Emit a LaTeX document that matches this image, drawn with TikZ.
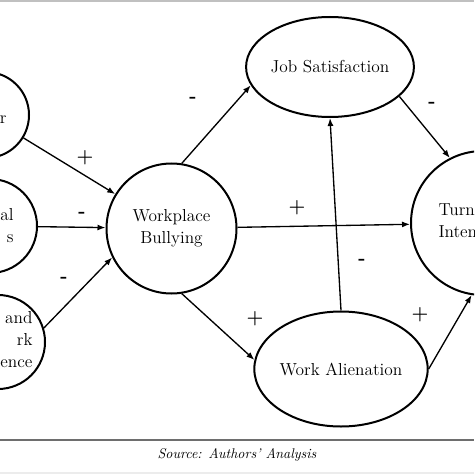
\documentclass[tikz,border=0pt]{standalone}
\usetikzlibrary{shapes.geometric,arrows.meta}
\tikzset{every picture/.style={line width=0.75pt}}
\begin{document}
\begin{tikzpicture}[x=0.75pt,y=0.75pt,yscale=-1,xscale=1,
  construct/.style={draw,circle,line width=1.5pt,inner sep=0pt,font=\fontsize{13}{16.5}\selectfont,align=center},
  oval/.style={draw,ellipse,line width=1.5pt,inner sep=0pt,font=\fontsize{13}{16.5}\selectfont},
  cut/.style={inner sep=0.75pt,font=\fontsize{13}{16.5}\selectfont},
  link/.style={line width=1pt,-{Latex[length=6pt,width=4.5pt]}},
  signlbl/.style={inner sep=0.75pt,font=\Large\bfseries}]
\useasboundingbox (0,0) rectangle (474,474);
\clip (0,0) rectangle (474,474);
%Frame bands
\fill [color={rgb, 255:red, 192; green, 192; blue, 192 }] (0,0) rectangle (474,2) ;
\fill [color={rgb, 255:red, 236; green, 236; blue, 236 }] (0,471.5) rectangle (474,474) ;
\draw [color={rgb, 255:red, 110; green, 110; blue, 110 }, line width=1.5pt] (0,440) -- (474,440) ;

%Shape: Circle
\node (gender) [construct, minimum size=64.5pt] at (-14,115) {};
\node (factor) [construct, minimum size=70.5pt] at (-10,226) {};
\node (age) [construct, minimum size=70.5pt] at (-2,342) {};
\node (bullying) [construct, minimum size=97.5pt] at (171.5,228.5) {Workplace\\Bullying};
\node (turnover) [construct, minimum size=108pt] at (483,223) {};
%Shape: Ellipse
\node (satisfaction) [oval, minimum width=108pt, minimum height=75pt] at (330,67) {Job Satisfaction};
\node (alienation) [oval, minimum width=106.5pt, minimum height=86.25pt] at (341,369) {Work Alienation};

% Text Node
\node (gendertxt) [cut, anchor=east] at (8,120) {r};
% Text Node
\node (factortxt) [cut, anchor=east, align=right] at (15,226) {al\\s};
% Text Node
\node (agetxt) [cut, anchor=east, align=right] at (34,340) {and\\rk\\ence};
% Text Node
\node (turnovertxt) [cut, anchor=west, align=left] at (437,221) {Turnover\\Intention};

%Straight Lines
\draw [link] (gender) -- (bullying) ;
\draw [link] (factor) -- (bullying) ;
\draw [link] (age.17) -- (bullying.206) ;
\draw [link] (bullying.81) -- (satisfaction.193) ;
\draw [link] (bullying) -- (turnover) ;
\draw [link] (bullying.279) -- (alienation.174) ;
\draw [link] (alienation.north) -- (satisfaction.south) ;
\draw [link] (satisfaction.337) -- (turnover.117) ;
\draw [link] (alienation.east) -- (turnover.261) ;

% Sign Nodes
\node (sgender) [signlbl] at (85,158) {+};
\node (sfactor) [signlbl] at (82,215) {-};
\node (sage) [signlbl] at (64,280) {-};
\node (ssat) [signlbl] at (193,100) {-};
\node (sturn) [signlbl] at (297,208) {+};
\node (sali) [signlbl] at (255,319) {+};
\node (scross) [signlbl] at (362,262) {-};
\node (ssatturn) [signlbl] at (432,105) {-};
\node (saliturn) [signlbl] at (420,315) {+};

% Text Node
\node (source) [font=\fontsize{10.5}{13}\selectfont\itshape] at (237,455) {Source: Authors' Analysis};
\end{tikzpicture}
\end{document}
